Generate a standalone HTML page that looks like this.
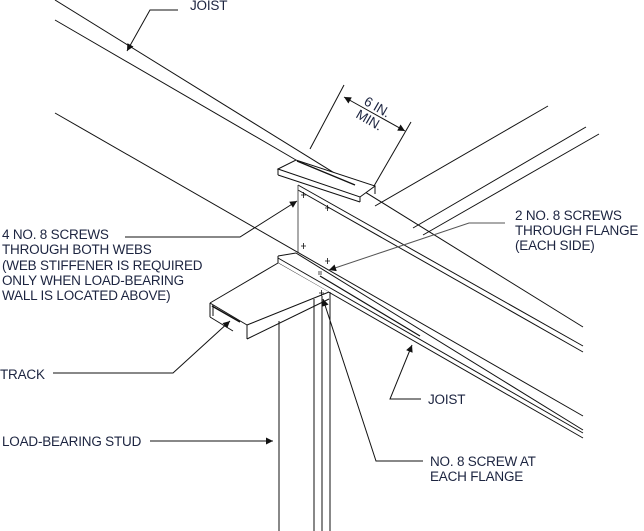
<!DOCTYPE html>
<html><head><meta charset="utf-8"><style>
html,body{margin:0;padding:0;background:#fff;}
svg{display:block;}
text{font-family:"Liberation Sans",sans-serif;font-size:13.5px;fill:#1c2440;letter-spacing:-0.2px;}
</style></head><body>
<svg width="644" height="531" viewBox="0 0 644 531" xmlns="http://www.w3.org/2000/svg">
<defs>
<marker id="a" viewBox="0 0 10 10" refX="10" refY="5" markerWidth="9" markerHeight="7" orient="auto-start-reverse" markerUnits="userSpaceOnUse"><path d="M0,0 L10,5 L0,10 z" fill="#111"/></marker>
</defs>
<g stroke="#111" stroke-width="1" fill="none">
<line x1="55" y1="0" x2="583" y2="327"/>
<line x1="55" y1="20" x2="296" y2="160"/>
<line x1="298" y1="185" x2="583" y2="346"/>
<line x1="298" y1="190" x2="583" y2="352"/>
<path d="M278,169 L296,160 L375,186 L360,197 Z" fill="#fff"/>
<line x1="278" y1="169" x2="278" y2="175"/>
<line x1="278" y1="175" x2="360" y2="202"/>
<line x1="360" y1="197" x2="360" y2="202"/>
<line x1="375" y1="186" x2="375" y2="194"/>
<line x1="297" y1="161" x2="355" y2="185" stroke-width="1.4"/>
<line x1="298" y1="185" x2="298" y2="253" stroke="#555"/>
<line x1="375" y1="206" x2="548" y2="106"/>
<line x1="413" y1="228" x2="586" y2="127"/>
<line x1="423" y1="235" x2="599" y2="134"/>
<line x1="55" y1="113" x2="583" y2="416"/>
<line x1="296" y1="253" x2="583" y2="430"/>
<line x1="278" y1="258" x2="583" y2="433"/>
<line x1="278" y1="263" x2="583" y2="438"/>
<line x1="278" y1="256" x2="296" y2="253"/>
<line x1="278" y1="256" x2="278" y2="263"/>
<line x1="320" y1="276" x2="420" y2="336" stroke-width="1.2"/>
<path d="M210,303 L278,263 L329,292 L247,325 Z" fill="#fff" stroke="none"/>
<line x1="210" y1="303" x2="278" y2="263"/>
<line x1="210" y1="303" x2="247" y2="325"/>
<line x1="247" y1="325" x2="329" y2="292"/>
<line x1="247" y1="339" x2="329" y2="299"/>
<line x1="210" y1="303" x2="210" y2="317"/>
<line x1="213" y1="305" x2="213" y2="316"/>
<line x1="247" y1="325" x2="247" y2="339"/>
<line x1="210" y1="317" x2="233" y2="331"/>
<line x1="212" y1="306" x2="240" y2="322" stroke-width="1.5"/>
<line x1="279" y1="321" x2="279" y2="531"/>
<line x1="314" y1="299" x2="314" y2="531"/>
<line x1="322" y1="296" x2="322" y2="531"/>
<line x1="330" y1="292" x2="330" y2="531"/>
<g stroke-width="0.8">
<path d="M301,195 h5 M303.5,192 v6"/>
<path d="M325,208 h5 M327.5,205 v6"/>
<path d="M301,246 h5 M303.5,243 v6"/>
<path d="M325,261 h5 M327.5,258 v6"/>
<path d="M318,272 h4 M318,274 h4"/>
<path d="M319,293 h5 M321.5,290 v6"/>
</g>
<line x1="310" y1="149" x2="344" y2="85"/>
<line x1="374" y1="186" x2="411" y2="122"/>
<line x1="344" y1="97" x2="405" y2="131" marker-start="url(#a)" marker-end="url(#a)"/>
<polyline points="178,10 150,10 127,51" marker-end="url(#a)"/>
<polyline points="125,237 240,237 297,201" marker-end="url(#a)"/>
<polyline points="505,223 469,223 329,270" marker-end="url(#a)" stroke="#555"/>
<polyline points="53,373 173,373 230,321" marker-end="url(#a)"/>
<polyline points="421,399 390,399 412,345" marker-end="url(#a)"/>
<polyline points="150,441 273,441" marker-end="url(#a)"/>
<polyline points="423,461 376,461 323,299" marker-end="url(#a)"/>
</g>
<text x="190" y="10">JOIST</text>
<text x="363" y="104" transform="rotate(30 363 104)">6 IN.</text>
<text x="355" y="117" transform="rotate(30 355 117)">MIN.</text>
<text x="2" y="239">4 NO. 8 SCREWS</text>
<text x="2" y="254">THROUGH BOTH WEBS</text>
<text x="2" y="270">(WEB STIFFENER IS REQUIRED</text>
<text x="2" y="285">ONLY WHEN LOAD-BEARING</text>
<text x="2" y="300">WALL IS LOCATED ABOVE)</text>
<text x="515" y="220">2 NO. 8 SCREWS</text>
<text x="515" y="235">THROUGH FLANGE</text>
<text x="515" y="250">(EACH SIDE)</text>
<text x="0" y="379">TRACK</text>
<text x="428" y="404">JOIST</text>
<text x="2" y="446">LOAD-BEARING STUD</text>
<text x="430" y="466">NO. 8 SCREW AT</text>
<text x="430" y="481">EACH FLANGE</text>
</svg>
</body></html>
